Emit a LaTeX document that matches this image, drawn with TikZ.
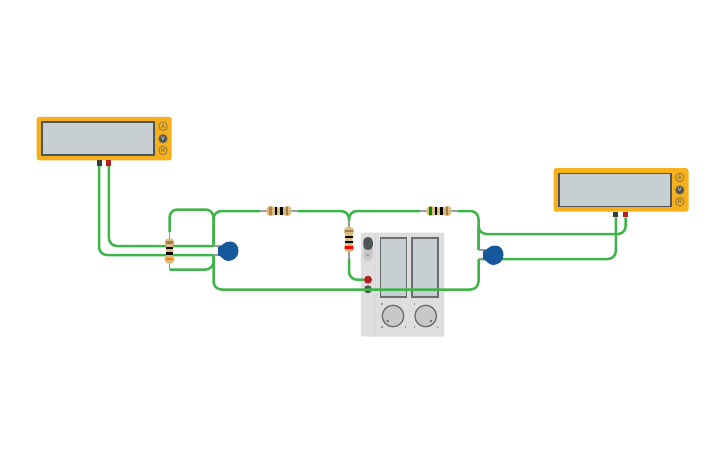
\documentclass[tikz,border=0pt]{standalone}
\usepackage{fontspec}
\setmainfont{Liberation Sans}
\usetikzlibrary{calc}
\definecolor{WireGreen}{HTML}{3FB449}
\definecolor{MeterOrange}{HTML}{F5B01C}
\definecolor{ScreenGrey}{HTML}{C7CFD2}
\definecolor{FrameGrey}{HTML}{4F5557}
\definecolor{ThermBlue}{HTML}{15589C}
\definecolor{BodyTan}{HTML}{DDBB7C}
\definecolor{PanelGrey}{HTML}{DEDEDE}
\definecolor{LeadGrey}{HTML}{9A9A9A}
\definecolor{ProbeRed}{HTML}{B5201F}

\newcommand\multimeter[3]{% name, x, y (top left)
	\node[MeterBody] at (#2+67.5,#3+21.7) (#1) {};
	\node[MeterScreen] at (#2+61.5,#3+21.7) (#1-screen) {};
	\node[MeterBtn] at (#2+126.3,#3+9.3) (#1-A) {A};
	\node[MeterBtn,fill=FrameGrey,text=ScreenGrey] at (#2+126.3,#3+21.8) (#1-V) {V};
	\node[MeterBtn] at (#2+126.3,#3+33.5) (#1-R) {R};
	\node[ProbeBox,fill=FrameGrey!70!black] at (#2+62.3,#3+46.3) (#1-black) {};
	\node[ProbeBox,fill=ProbeRed] at (#2+72.2,#3+46.3) (#1-red) {};
}

\newcommand\resistorpins[4]{% name, x, y, angle
	\begin{scope}[shift={(#2,#3)},rotate=#4]
		\coordinate (#1-a) at (-19,0);
		\coordinate (#1-b) at (19,0);
	\end{scope}
}

\newcommand\resistor[8]{% name, x, y, angle, four bands
	\begin{scope}[shift={(#2,#3)},rotate=#4]
		\draw[LeadSty] (#1-a) -- (#1-b);
		\fill[BodyTan] (-13,0) .. controls (-12,-6) and (-7,-6) .. (-5,-3.6) -- (5,-3.6)
			.. controls (7,-6) and (12,-6) .. (13,0) .. controls (12,6) and (7,6) .. (5,3.6)
			-- (-5,3.6) .. controls (-7,6) and (-12,6) .. (-13,0) -- cycle;
		\foreach \pos/\col in {-8.5/#5,-2.7/#6,2.5/#7,8/#8}
		{
			\fill[\col] (\pos-1.1,-3.9) rectangle (\pos+1.1,3.9);
		}
	\end{scope}
}

\newcommand\thermistorpins[3]{% name, x, y of upper lead
	\coordinate (#1-a) at (#2,#3);
	\coordinate (#1-b) at (#2,#3+9);
}

\newcommand\thermistor[3]{% name, x, y of upper lead
	\draw[LeadSty] (#1-a) -- ++(7,0);
	\draw[LeadSty] (#1-b) -- ++(7,0);
	\fill[ThermBlue] (#2+4.5,#3+1) .. controls (#2+7,#3+0.5) and (#2+8,#3-0.5) .. (#2+9,#3-1.5)
		.. controls (#2+11,#3-3.5) and (#2+14,#3-4.5) .. (#2+17,#3-4.5)
		.. controls (#2+22,#3-4.5) and (#2+25,#3) .. (#2+25,#3+5)
		.. controls (#2+25,#3+11) and (#2+20,#3+15) .. (#2+14.5,#3+15)
		.. controls (#2+10,#3+15) and (#2+8,#3+10) .. (#2+4.5,#3+9) -- cycle;
}

\begin{document}
\begin{tikzpicture}[x=1pt,y=-1pt]
		\tikzstyle{WireSty}=[color=WireGreen,line width=2.5pt,rounded corners=8pt]
		\tikzstyle{LeadSty}=[color=LeadGrey,line width=1.6pt]
		\tikzstyle{MeterBody}=[fill=MeterOrange,rounded corners=2.5pt,minimum width=135pt,minimum height=43.5pt,inner sep=0pt]
		\tikzstyle{MeterScreen}=[fill=ScreenGrey,draw=FrameGrey,line width=1.6pt,minimum width=112pt,minimum height=33pt,inner sep=0pt]
		\tikzstyle{MeterBtn}=[circle,draw=FrameGrey!70!MeterOrange,line width=0.7pt,minimum size=8.5pt,inner sep=0pt,font=\fontsize{5.5}{6}\selectfont\bfseries,text=FrameGrey!70!MeterOrange]
		\tikzstyle{ProbeBox}=[minimum width=5pt,minimum height=5.5pt,inner sep=0pt]
		\tikzstyle{PanelScreen}=[fill=ScreenGrey,draw=FrameGrey!85!white,line width=1.7pt,minimum width=26pt,minimum height=59pt,inner sep=0pt]
		\tikzstyle{Knob}=[circle,fill=PanelGrey!90!black,draw=FrameGrey!85!white,line width=1.3pt,minimum size=21.5pt,inner sep=0pt]
		\tikzstyle{Terminal}=[circle,minimum size=8pt,inner sep=0pt]
		\tikzstyle{TickDot}=[fill=FrameGrey!60!white,minimum size=1.3pt,inner sep=0pt]

\useasboundingbox (0,0) rectangle (725,453);

\node[fill=PanelGrey,rounded corners=2pt,minimum width=83.5pt,minimum height=104pt,inner sep=0pt] at (402.7,284.7) (supply) {};
\draw[color=PanelGrey!97!black,line width=0.5pt] (supply.north west)++(14.7,0) -- ++(0,104);
\node[PanelScreen] at (393.5,267.3) (screenA) {};
\node[PanelScreen] at (425.3,267.3) (screenB) {};
\node[fill=PanelGrey!90!black,rounded corners=4.5pt,minimum width=9.5pt,minimum height=24pt,inner sep=0pt] at (368,249) (switchbase) {};
\node[fill=FrameGrey,rounded corners=4.5pt,minimum width=9.5pt,minimum height=13pt,inner sep=0pt] at (368,243.5) (switchtop) {};
\node[font=\fontsize{3.5}{4}\selectfont,text=FrameGrey!80!white,inner sep=0pt] at (368,255.5) (switchlabel) {AV};
\node[Knob] at (393,316) (knobA) {};
\node[Knob] at (425.7,316) (knobB) {};
\node[TickDot,circle,minimum size=2.2pt,fill=FrameGrey] at (387.7,321) (dotA) {};
\node[TickDot,circle,minimum size=2.2pt,fill=FrameGrey] at (431,321) (dotB) {};

\foreach \i/\x/\y in {1/382/304,2/382/327,3/405.5/327,4/414.5/304,5/414.5/327,6/437.5/327}
{
	\node[TickDot] at (\x,\y) (tick\i) {};
}

\node[Terminal,fill=ProbeRed] at (368,279.7) (supply-red) {};
\node[Terminal,fill=FrameGrey] at (368,289.3) (supply-black) {};

\multimeter{meterA}{36.7}{116.9}
\multimeter{meterB}{553.5}{168.2}

\thermistorpins{thermA}{213.5}{246}
\thermistorpins{thermB}{478.5}{250}
\resistorpins{resA}{169.5}{251}{-90}
\resistorpins{resB}{279}{211}{0}
\resistorpins{resC}{349}{239.5}{-90}
\resistorpins{resD}{439}{211}{0}

\coordinate (topA) at (213.5,209.5);
\coordinate (lowA) at (169.5,269.5);
\coordinate (lowB) at (478.5,289.5);
\coordinate (topB) at (478.5,234);

\draw[WireSty] (meterA-red) |- (thermA-a);
\draw[WireSty] (meterA-black) |- (thermA-b);
\draw[WireSty] (resA-a) |- (topA) -- (thermA-a);
\draw[WireSty] (lowA) -| (thermA-b);
\draw[WireSty] (thermA-a) |- (resB-a);
\draw[WireSty] (thermA-b) |- (lowB) -- (thermB-b);
\draw[WireSty] (resB-b) -| (resC-a);
\draw[WireSty] (resC-a) |- (resD-a);
\draw[WireSty] (resD-b) -| (thermB-a);
\draw[WireSty] (thermB-a) |- (topB) -| (meterB-red);
\draw[WireSty] (thermB-b) -| (meterB-black);
\draw[WireSty] (resC-b) |- (supply-red);

\thermistor{thermA}{213.5}{246}
\thermistor{thermB}{478.5}{250}

\resistor{resA}{169.5}{251}{-90}{BodyTan!70!black}{black}{black}{orange}
\resistor{resB}{279}{211}{0}{brown}{black}{black}{BodyTan!70!black}
\resistor{resC}{349}{239.5}{-90}{BodyTan!70!black}{black}{black}{red}
\resistor{resD}{439}{211}{0}{green!55!black}{black}{black}{BodyTan!70!black}

\end{tikzpicture}
\end{document}
